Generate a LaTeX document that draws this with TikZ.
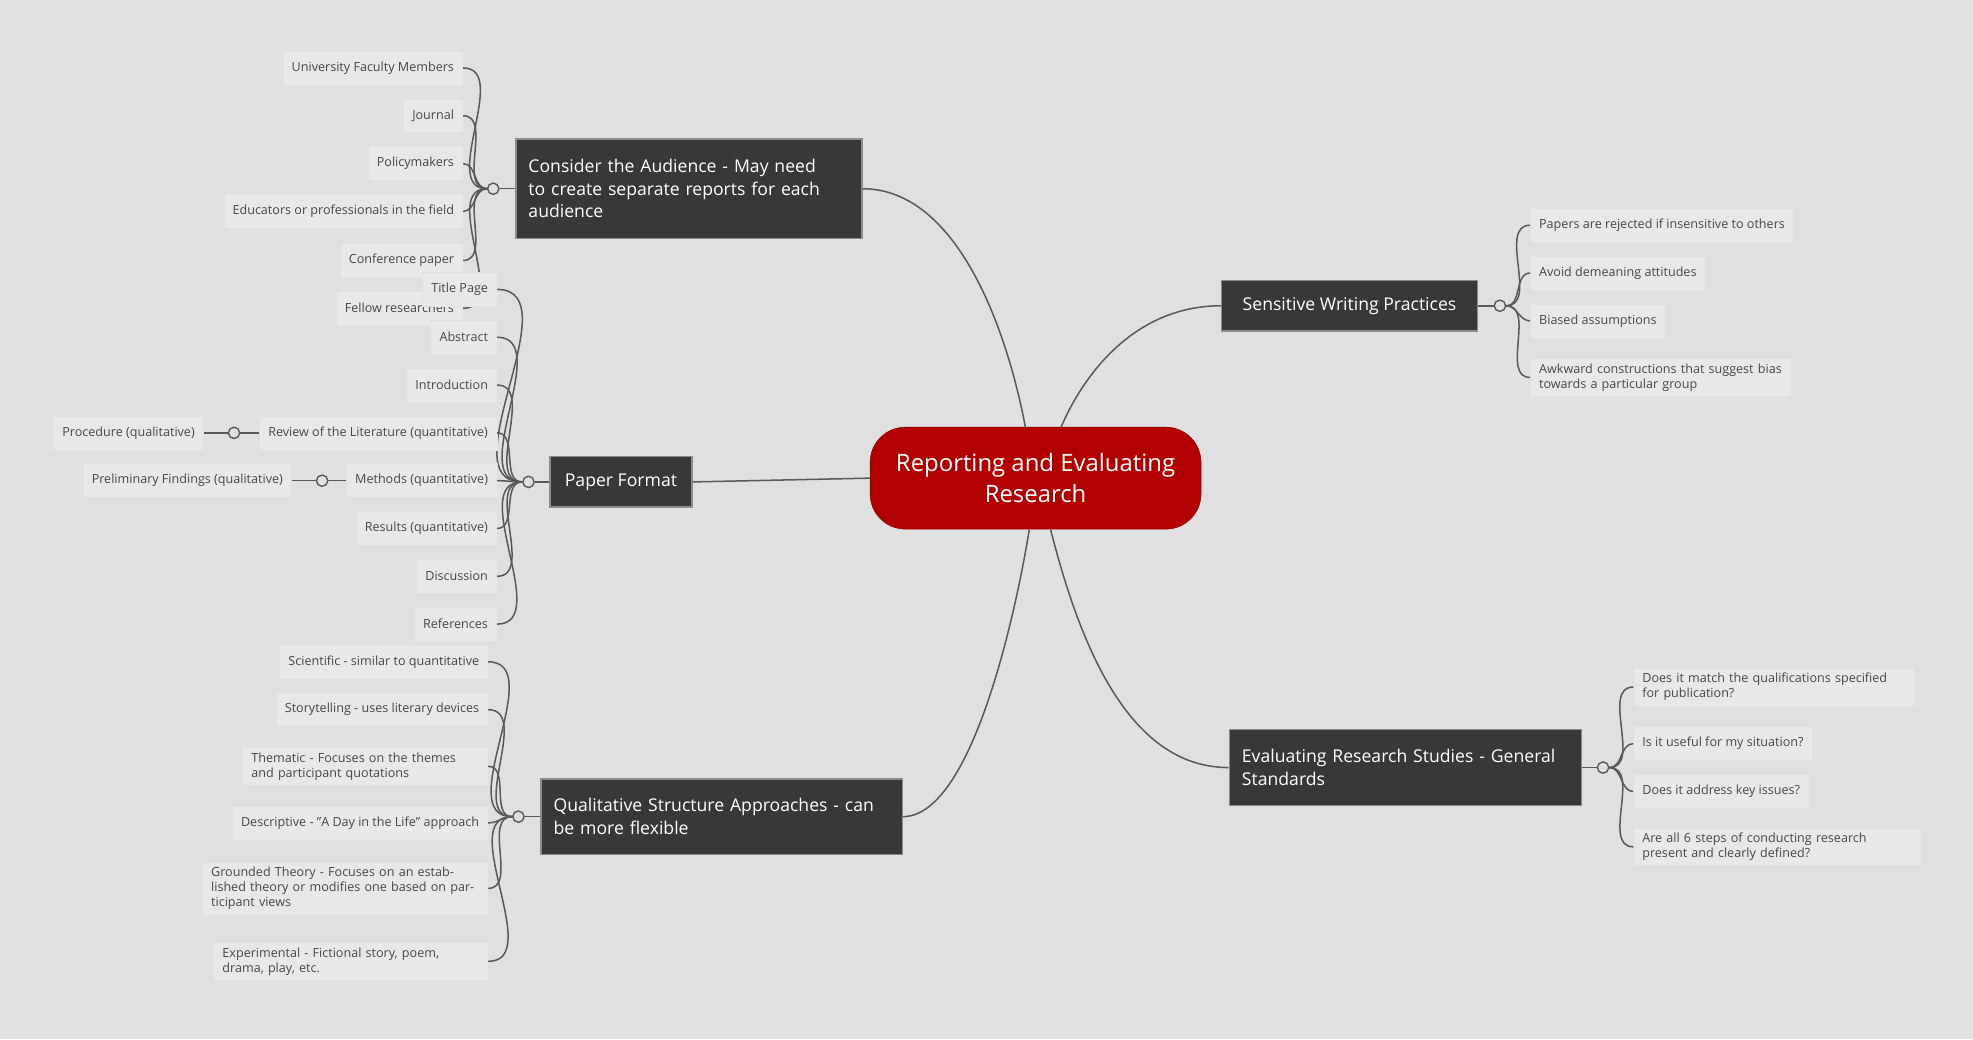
\documentclass[tikz,border=0pt]{standalone}
\usepackage{fontspec}
\setmainfont{Open Sans}
\begin{document}
\begin{tikzpicture}[x=1pt,y=-1pt,
  conn/.style={draw=black!65,line width=1.2pt},
  leaf/.style={draw=black!12,fill=black!9,text=black!72,font=\fontsize{10}{12}\selectfont,inner xsep=7pt,inner ysep=4pt,minimum height=27pt,align=left},
  branch/.style={draw=black!45,fill=black!78,text=white,font=\fontsize{14}{18}\selectfont,inner xsep=10pt,inner ysep=6pt,align=left,line width=1pt},
  junc/.style={circle,draw=black!65,fill=black!12,inner sep=0pt,minimum size=9pt,line width=1.1pt}]
\fill[black!12] (0,0) rectangle (1568,826);
\useasboundingbox (0,0) rectangle (1568,826);
% center
\node[fill=red!70!black,draw=red!55!black,rounded corners=28pt,text=white,minimum width=263pt,minimum height=81pt,align=center,font=\fontsize{19}{25}\selectfont] (c) at (823,380) {Reporting and Evaluating\\Research};
% branches
\node[branch,minimum width=275pt,minimum height=79pt,text width=255pt] (aud) at (547.5,150) {Consider the Audience - May need to create separate reports for each audience};
\node[branch,minimum width=203pt,minimum height=40pt] (sen) at (1072.5,243) {Sensitive Writing Practices};
\node[branch,minimum width=113pt,minimum height=40pt] (pf) at (493.5,383) {Paper Format};
\node[branch,minimum width=287pt,minimum height=60pt,text width=267pt] (qual) at (573.5,649) {Qualitative Structure Approaches - can be more flexible};
\node[branch,minimum width=280pt,minimum height=60pt,text width=260pt] (ev) at (1117,610) {Evaluating Research Studies - General Standards};
\draw[conn] (aud.east) .. controls (760,150) and (800,260) .. (815,340);
\draw[conn] (sen.west) .. controls (900,243) and (860,300) .. (843,340);
\draw[conn] (pf.east) -- (c.west);
\draw[conn] (qual.east) .. controls (770,649) and (805,500) .. (818,421);
\draw[conn] (ev.west) .. controls (900,610) and (860,520) .. (835,421);
% audience leaves
\node[junc] (ja) at (392,150) {};
\draw[conn] (aud.west) -- (ja);
\foreach \n/\y/\t in {a1/54/University Faculty Members,a2/92/Journal,a3/130/Policymakers,a4/168/Educators or professionals in the field,a5/207/Conference paper,a6/245/Fellow researchers}{
  \node[leaf,anchor=east] (\n) at (368,\y) {\t};
  \draw[conn] (ja) to[out=180,in=0] (\n.east);}
% paper format leaves
\node[junc] (jp) at (420,383) {};
\draw[conn] (pf.west) -- (jp);
\foreach \n/\y/\t in {p1/230/Title Page,p2/268/Abstract,p3/306/Introduction,p4/344/Review of the Literature (quantitative),p5/382/Methods (quantitative),p6/420/Results (quantitative),p7/458/Discussion,p8/496/References}{
  \node[leaf,anchor=east] (\n) at (395,\y) {\t};
  \draw[conn] (jp) to[out=180,in=0] (\n.east);}
\node[junc] (jp4) at (186,344) {};
\node[leaf,anchor=east] (p4a) at (162,344) {Procedure (qualitative)};
\draw[conn] (p4.west) -- (jp4); \draw[conn] (jp4) -- (p4a.east);
\node[junc] (jp5) at (256,382) {};
\node[leaf,anchor=east] (p5a) at (232,382) {Preliminary Findings (qualitative)};
\draw[conn] (p5.west) -- (jp5); \draw[conn] (jp5) -- (p5a.east);
% qualitative leaves
\node[junc] (jq) at (412,649) {};
\draw[conn] (qual.west) -- (jq);
\node[leaf,anchor=east] (q1) at (388,526) {Scientific - similar to quantitative};
\node[leaf,anchor=east] (q2) at (388,564) {Storytelling - uses literary devices};
\node[leaf,anchor=east,text width=181pt] (q3) at (388,609) {Thematic - Focuses on the themes and participant quotations};
\node[leaf,anchor=east] (q4) at (388,654) {Descriptive - "A Day in the Life" approach};
\node[leaf,anchor=east,text width=213pt] (q5) at (388,706) {Grounded Theory - Focuses on an established theory or modifies one based on participant views};
\node[leaf,anchor=east,text width=204pt] (q6) at (388,764) {Experimental - Fictional story, poem, drama, play, etc.};
\foreach \n in {q1,q2,q3,q4,q5,q6}{\draw[conn] (jq) to[out=180,in=0] (\n.east);}
% sensitive leaves
\node[junc] (js) at (1192,243) {};
\draw[conn] (sen.east) -- (js);
\node[leaf,anchor=west] (s1) at (1216,179) {Papers are rejected if insensitive to others};
\node[leaf,anchor=west] (s2) at (1216,217) {Avoid demeaning attitudes};
\node[leaf,anchor=west] (s3) at (1216,255) {Biased assumptions};
\node[leaf,anchor=west,text width=193pt] (s4) at (1216,300) {Awkward constructions that suggest bias towards a particular group};
\foreach \n in {s1,s2,s3,s4}{\draw[conn] (js) to[out=0,in=180] (\n.west);}
% evaluating leaves
\node[junc] (je) at (1274,610) {};
\draw[conn] (ev.east) -- (je);
\node[leaf,anchor=west,text width=209pt] (e1) at (1298,546) {Does it match the qualifications specified for publication?};
\node[leaf,anchor=west] (e2) at (1298,591) {Is it useful for my situation?};
\node[leaf,anchor=west] (e3) at (1298,629) {Does it address key issues?};
\node[leaf,anchor=west,text width=215pt] (e4) at (1298,673) {Are all 6 steps of conducting research present and clearly defined?};
\foreach \n in {e1,e2,e3,e4}{\draw[conn] (je) to[out=0,in=180] (\n.west);}
\end{tikzpicture}
\end{document}
